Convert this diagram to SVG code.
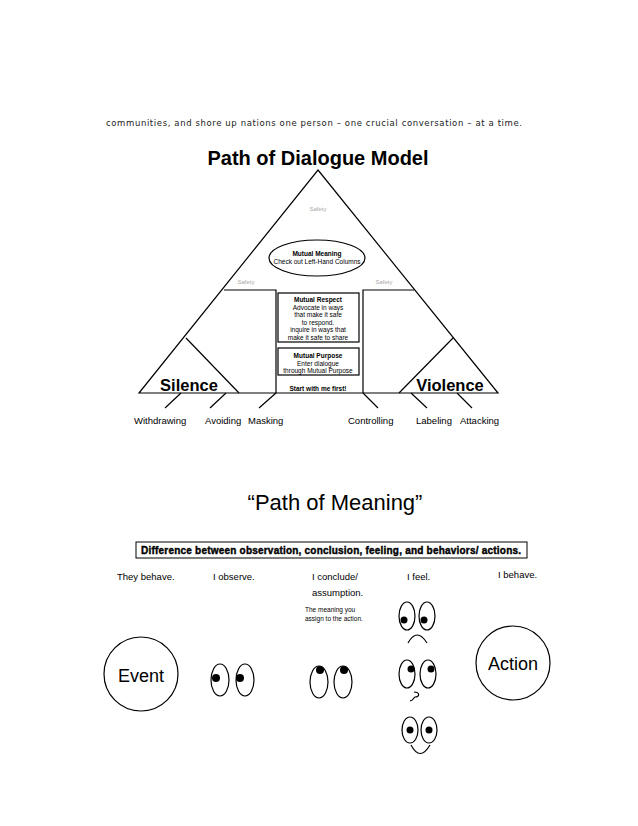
<svg xmlns="http://www.w3.org/2000/svg" width="638" height="826" viewBox="0 0 638 826">
<style>
.l{stroke:#000;stroke-width:1.2;fill:none}
.f{fill:#fff;stroke:#000;stroke-width:1.2}
text{font-family:"Liberation Sans",Arial,sans-serif;fill:#000}
.s{font-size:6px;fill:#aaa;text-anchor:middle}
.sm{font-size:6.5px;text-anchor:middle}
.lb{font-size:9.5px}
.p{fill:#000}
</style>
<rect width="638" height="826" fill="#fff"/>
<text x="106" y="126" style="font-family:'DejaVu Sans',sans-serif;font-size:8.5px;fill:#222" textLength="416">communities, and shore up nations one person – one crucial conversation – at a time.</text>
<text x="318" y="165" text-anchor="middle" font-size="20" font-weight="bold">Path of Dialogue Model</text>
<g id="pyramid">
<path class="l" d="M318 170 L498 393 L139 393 Z"/>
<path class="l" d="M224 290 L276 290 L276 393 M414 290 L363 290 L363 393"/>
<path class="l" d="M186 338 L239 393 M453 338 L399 393"/>
<text class="s" x="318" y="211">Safety</text>
<text class="s" x="246" y="284">Safety</text>
<text class="s" x="384" y="284">Safety</text>
</g>
<g id="meaning">
<ellipse class="f" cx="317" cy="258" rx="48" ry="18"/>
<text class="sm" x="317" y="256" font-weight="bold">Mutual Meaning</text>
<text class="sm" x="317" y="264">Check out Left-Hand Columns</text>
</g>
<g id="respect">
<rect class="f" x="278" y="293" width="81" height="49"/>
<text class="sm" x="318" y="302" font-weight="bold">Mutual Respect</text>
<text class="sm" x="318" y="309.5">Advocate in ways</text>
<text class="sm" x="318" y="317">that make it safe</text>
<text class="sm" x="318" y="324.5">to respond.</text>
<text class="sm" x="318" y="332">inquire in ways that</text>
<text class="sm" x="318" y="339.5">make it safe to share</text>
</g>
<g id="purpose">
<rect class="f" x="278" y="348" width="81" height="27"/>
<text class="sm" x="318" y="358" font-weight="bold">Mutual Purpose</text>
<text class="sm" x="318" y="365.5">Enter dialogue</text>
<text class="sm" x="318" y="373">through Mutual Purpose</text>
<text class="sm" x="318" y="391" font-weight="bold">Start with me first!</text>
</g>
<text x="189" y="391" text-anchor="middle" font-size="16.5" font-weight="bold">Silence</text>
<text x="450" y="391" text-anchor="middle" font-size="16.5" font-weight="bold">Violence</text>
<g id="connectors">
<path class="l" d="M181 393 L165 408 M226 393 L210 408 M276 393 L259 408 M363 393 L378 408 M411 393 L427 408 M457 393 L472 408"/>
</g>
<g>
<text class="lb" x="134" y="424">Withdrawing</text>
<text class="lb" x="205" y="424">Avoiding</text>
<text class="lb" x="248" y="424">Masking</text>
<text class="lb" x="348" y="424">Controlling</text>
<text class="lb" x="416" y="424">Labeling</text>
<text class="lb" x="460" y="424">Attacking</text>
</g>
<text x="335" y="510" text-anchor="middle" font-size="22">“Path of Meaning”</text>
<g id="header">
<rect x="136" y="542" width="391" height="16" fill="#fff" stroke="#000" stroke-width="1"/>
<text x="331" y="554" text-anchor="middle" font-size="10" font-weight="bold" stroke="#000" stroke-width="0.4" textLength="380">Difference between observation, conclusion, feeling, and behaviors/ actions.</text>
</g>
<text class="lb" x="117" y="580">They behave.</text>
<text class="lb" x="213" y="580">I observe.</text>
<text class="lb" x="312" y="580">I conclude/</text>
<text class="lb" x="312" y="596">assumption.</text>
<text class="lb" x="407" y="580">I feel.</text>
<text class="lb" x="498" y="578">I behave.</text>
<text x="305" y="612" font-size="6.5">The meaning you</text>
<text x="305" y="621" font-size="6.5">assign to the action.</text>
<g id="event">
<circle class="f" cx="141" cy="674" r="37"/>
<text x="141" y="682" text-anchor="middle" font-size="18">Event</text>
</g>
<g id="action">
<circle class="f" cx="513" cy="663" r="37"/>
<text x="513" y="670" text-anchor="middle" font-size="18">Action</text>
</g>
<g id="observe">
<ellipse class="f" cx="220" cy="680" rx="9" ry="16"/><ellipse class="f" cx="245" cy="680" rx="9" ry="16"/>
<circle class="p" cx="216" cy="678" r="4"/><circle class="p" cx="240" cy="678" r="4"/>
</g>
<g id="conclude">
<ellipse class="f" cx="319" cy="682" rx="9" ry="16"/><ellipse class="f" cx="343" cy="682" rx="9" ry="16"/>
<circle class="p" cx="320" cy="670" r="4"/><circle class="p" cx="344" cy="670" r="4"/>
</g>
<g id="feel">
<ellipse class="f" cx="407" cy="616" rx="8" ry="14"/><ellipse class="f" cx="427" cy="616" rx="8" ry="14"/>
<circle class="p" cx="404" cy="620" r="3.5"/><circle class="p" cx="424" cy="620" r="3.5"/>
<path class="l" d="M408 643 Q417 627 427 643"/>
<ellipse class="f" cx="407" cy="674" rx="8" ry="14"/><ellipse class="f" cx="428" cy="674" rx="8" ry="14"/>
<circle class="p" cx="411" cy="669" r="3.5"/><circle class="p" cx="431" cy="669" r="3.5"/>
<path class="l" d="M414 692 C420 692 420 697 415 697 C413 698 414 700 410 701"/>
<ellipse class="f" cx="410" cy="730" rx="8" ry="13"/><ellipse class="f" cx="429" cy="730" rx="8" ry="13"/>
<circle class="p" cx="410" cy="730" r="3.5"/><circle class="p" cx="429" cy="730" r="3.5"/>
<path class="l" d="M411 745 Q420 762 430 745"/>
</g>
</svg>
